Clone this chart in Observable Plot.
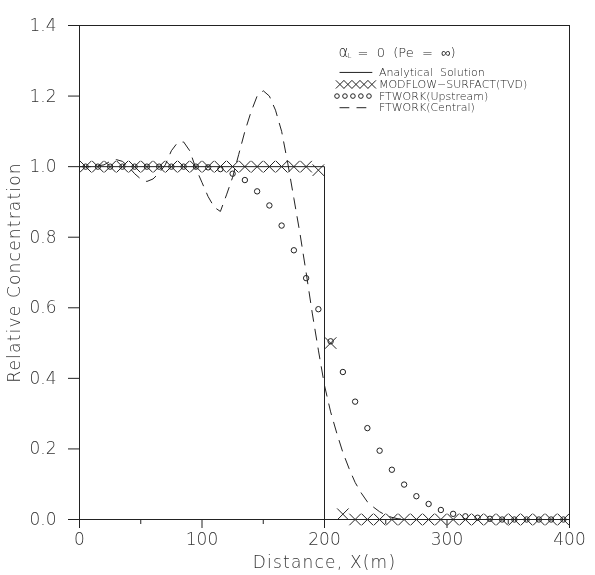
<!DOCTYPE html>
<html>
<head>
<meta charset="utf-8">
<script src="https://cdn.jsdelivr.net/npm/d3@7"></script>
<script src="https://cdn.jsdelivr.net/npm/@observablehq/plot@0.6"></script>
<style>
  body { margin: 0; background: #fff; }
  svg { filter: grayscale(1); }
  g[aria-label="x-axis label"] text, g[aria-label="y-axis label"] text { letter-spacing: 1.2px; }
  g[aria-label="legend"] text { letter-spacing: 0.8px; }
</style>
</head>
<body>
<div id="vis"></div>
<script>
// cell centres (m) of the numerical grid
const cellX = [5, 15, 25, 35, 45, 55, 65, 75, 85, 95, 105, 115, 125, 135, 145, 155, 165, 175, 185, 195,
  205, 215, 225, 235, 245, 255, 265, 275, 285, 295, 305, 315, 325, 335, 345, 355, 365, 375, 385, 395]

// MODFLOW-SURFACT (TVD)
const tvdValues = [1, 1, 1, 1, 1, 1, 1, 1, 1, 1, 1, 1, 1, 1, 1, 1, 1, 1, 1, 0.99,
  0.5, 0.015, 0, 0, 0, 0, 0, 0, 0, 0, 0, 0, 0, 0, 0, 0, 0, 0, 0, 0]

// FTWORK (Upstream)
const upstreamValues = [1, 1, 1, 1, 1, 1, 1, 1, 1, 1, 0.998, 0.993, 0.98, 0.962, 0.93, 0.89, 0.833, 0.763, 0.684, 0.596,
  0.505, 0.418, 0.334, 0.259, 0.195, 0.141, 0.099, 0.066, 0.044, 0.027, 0.016, 0.009, 0.005, 0.002, 0, 0, 0, 0, 0, 0]

// FTWORK (Central)
const centralX = [0, 10, 20, 25, 30, 35, 40, 45, 50, 55, 60, 65, 70, 75, 80, 85, 90, 95, 100, 105, 110, 115,
  120, 125, 130, 135, 140, 145, 150, 155, 160, 165, 170, 175, 180, 185, 190, 195, 200, 205, 210, 215,
  220, 225, 230, 235, 240, 245, 250, 255, 260, 270, 400]
const centralValues = [1, 1, 1.005, 1.015, 1.02, 1.015, 1, 0.98, 0.965, 0.958, 0.965, 0.982, 1.005, 1.045, 1.068, 1.07, 1.045, 0.995, 0.955, 0.915, 0.885, 0.873,
  0.92, 0.97, 1.035, 1.1, 1.155, 1.2, 1.215, 1.2, 1.16, 1.1, 1.01, 0.91, 0.81, 0.70, 0.585, 0.48, 0.38, 0.305, 0.245, 0.19,
  0.145, 0.105, 0.075, 0.05, 0.035, 0.022, 0.012, 0.006, 0.002, 0, 0]

// Analytical solution (step front at 200 m)
const analyticX = [0, 200, 200, 400]
const analyticValues = [1, 1, 0, 0]

const xTicks = [0, 100, 200, 300, 400]
const xMinorTicks = [50, 150, 250, 350]
const yTicks = [0, 0.2, 0.4, 0.6, 0.8, 1.0, 1.2, 1.4]

const legendLabels = ['Analytical  Solution', 'MODFLOW\u2212SURFACT(TVD)', 'FTWORK(Upstream)', 'FTWORK(Central)']
const legendRows = [1.267, 1.233, 1.2, 1.167]
const legendTitleY = 1.323
const legendLineX = [212.6, 238.7]
const legendCrossX = [212.6, 219.1, 225.7, 232.2, 238.7]
const legendCircleX = [210.2, 216.7, 223.2, 229.7, 236.3]
const legendTextX = 244.4

const ink = '#222'

const tvd = cellX.map((x, i) => ({x, c: tvdValues[i]}))
const upstream = cellX.map((x, i) => ({x, c: upstreamValues[i]}))
const central = centralX.map((x, i) => ({x, c: centralValues[i]}))
const analytic = analyticX.map((x, i) => ({x, c: analyticValues[i]}))

let chart = Plot.plot({
  width: 595,
  height: 575,
  marginLeft: 79,
  marginRight: 26,
  marginTop: 25,
  marginBottom: 56,
  x: {domain: [0, 400]},
  y: {domain: [0, 1.4]},
  style: {
    fontFamily: '"DejaVu Sans", sans-serif',
    fontWeight: 200,
    color: '#333',
    background: '#fff'
  },
  marks: [
    Plot.axisX(xMinorTicks, {tickSize: 5, text: null, label: null, stroke: ink}),
    Plot.axisX(xTicks, {
      tickSize: 9, tickPadding: 4, fontSize: 17, stroke: ink,
      label: 'Distance, X(m)', labelAnchor: 'center', labelArrow: 'none', labelOffset: 48
    }),
    Plot.axisY(yTicks, {
      tickSize: 11, tickPadding: 12, fontSize: 17, stroke: ink,
      tickFormat: d3.format('.1f'),
      label: 'Relative Concentration', labelAnchor: 'center', labelArrow: 'none', labelOffset: 72
    }),
    Plot.frame({stroke: ink}),
    Plot.line(analytic, {x: 'x', y: 'c', stroke: ink, strokeWidth: 1}),
    Plot.line(central, {x: 'x', y: 'c', stroke: ink, strokeWidth: 1, strokeDasharray: '11,8'}),
    Plot.dot(upstream, {x: 'x', y: 'c', r: 2.7, stroke: ink, strokeWidth: 1}),
    Plot.dot(tvd, {x: 'x', y: 'c', symbol: 'times', r: 5.3, stroke: ink, strokeWidth: 1}),

    // legend
    Plot.text(['\u03b1'], {x: 211.5, y: legendTitleY, text: d => d, textAnchor: 'start', fontSize: 15, fill: ink}),
    Plot.text(['L'], {x: 211.5, y: legendTitleY, text: d => d, textAnchor: 'start', dx: 9, dy: 3, fontSize: 7, fill: ink}),
    Plot.text(['=  0  (Pe  =  \u221e)'], {x: 211.5, y: legendTitleY, text: d => d, textAnchor: 'start', dx: 19, fontSize: 13, fill: ink}),
    Plot.line(legendLineX.map(x => [x, legendRows[0]]), {stroke: ink, strokeWidth: 1}),
    Plot.dot(legendCrossX, {x: d => d, y: legendRows[1], symbol: 'times', r: 3.8, stroke: ink, strokeWidth: 1}),
    Plot.dot(legendCircleX, {x: d => d, y: legendRows[2], r: 2.3, stroke: ink, strokeWidth: 1}),
    Plot.line(legendLineX.map(x => [x, legendRows[3]]), {stroke: ink, strokeWidth: 1, strokeDasharray: '9,8'}),
    Plot.text(legendLabels, {x: legendTextX, y: (d, i) => legendRows[i], text: d => d, textAnchor: 'start', fontSize: 11, fill: ink, ariaLabel: 'legend'})
  ]
})
d3.select('#vis').append(() => chart)
</script>
</body>
</html>
